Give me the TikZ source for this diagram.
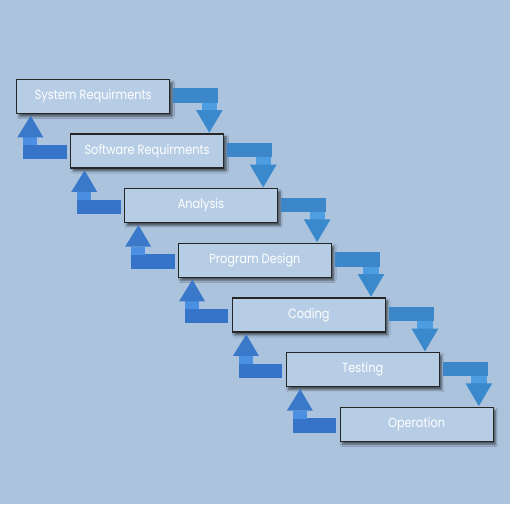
\documentclass[tikz,border=0pt]{standalone}
\usepackage{fontspec}
\newfontfamily\boxfont[FakeStretch=0.86]{Poppins}
\usetikzlibrary{calc,shadows.blur}
\definecolor{bg}{HTML}{ABC3DD}
\definecolor{boxfill}{HTML}{B7CDE5}
\definecolor{rbar}{HTML}{3B87C9}
\definecolor{rlight}{HTML}{4C9DE2}
\definecolor{rhead}{HTML}{3A89CD}
\definecolor{lbar}{HTML}{3574C8}
\definecolor{llight}{HTML}{4B8FE2}
\definecolor{lhead}{HTML}{3A78CA}
\begin{document}
\begin{tikzpicture}[x=1pt,y=-1pt,
 stage/.style={draw=black!85, line width=1.1pt, fill=boxfill, minimum width=153pt,
   minimum height=34pt, inner sep=0pt, outer sep=0pt, anchor=north west, text=white,
   font=\boxfont\fontsize{13.2}{15}\selectfont,
   blur shadow={shadow xshift=2.5pt, shadow yshift=-3pt, shadow opacity=60, shadow blur steps=6, shadow blur radius=2.2pt}},
]
\fill[bg] (0,0) rectangle (510,504);
\useasboundingbox (0,0) rectangle (510,504);
\foreach \i/\t in {0/System Requirments,1/Software Requirments,2/Analysis,3/Program Design,4/Coding,5/Testing,6/Operation}{
  \node[stage] (b\i) at ({16.7+53.9*\i},{79.3+54.67*\i}) {\t};
}
\foreach \i in {0,...,5}{
  % down-right connector
  \fill[rbar] ($(b\i.north east)+(3.7,9)$) rectangle ($(b\i.north east)+(48.3,23.4)$);
  \fill[rlight] ($(b\i.north east)+(32,23.4)$) rectangle ($(b\i.north east)+(47.6,31)$);
  \fill[rhead] ($(b\i.north east)+(26.3,30.7)$) -- ($(b\i.north east)+(53,30.7)$) -- ($(b\i.north east)+(39.6,53.4)$) -- cycle;
  % up-left connector
  \fill[lbar] ($(b\i.north west)+(6.6,65.7)$) rectangle ($(b\i.north west)+(50,80)$);
  \fill[llight] ($(b\i.north west)+(6.6,58)$) rectangle ($(b\i.north west)+(20.6,65.9)$);
  \fill[lhead] ($(b\i.north west)+(0.6,58)$) -- ($(b\i.north west)+(26.6,58)$) -- ($(b\i.north west)+(14,36.4)$) -- cycle;
}
\end{tikzpicture}
\end{document}
